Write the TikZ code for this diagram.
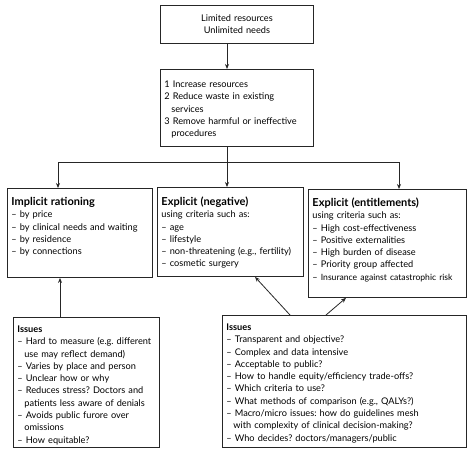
\documentclass[tikz,border=0pt]{standalone}
\usepackage{fontspec}
\setmainfont{Lato}
\usetikzlibrary{arrows.meta,calc,positioning}
\newcommand{\hangtxt}{\hspace*{0.75em}}
\frenchspacing

\begin{document}
\begin{tikzpicture}[x=1pt, y=-1pt,
        box/.style={rectangle, draw=black!85, line width=0.9pt, anchor=north west, align=left,
        inner xsep=4pt, inner ysep=4pt, text=black, font=\fontsize{9.2}{12.3}\selectfont},
        link/.style={draw=black!85, line width=0.8pt},
        arr/.style={link, -{Stealth[length=5pt,width=4pt]}}]
    \useasboundingbox (0,0) rectangle (474,450);

    \node [box, align=center, text width=145pt, text height=12pt, text depth=18pt] (top) at (160,5)
        {Limited resources\\Unlimited needs};
    \node [box, text width=145pt, text height=14pt, text depth=55pt] (steps) at (160,69)
        {1 Increase resources\\
         2 Reduce waste in existing\\
         \hangtxt services\\
         3 Remove harmful or ineffective\\
         \hangtxt procedures};

    \node [box, text width=137pt, text height=13pt, text depth=68pt] (implicit) at (7,188)
        {{\bfseries\fontsize{11}{12}\selectfont Implicit rationing}\\
         -- by price\\
         -- by clinical needs and waiting\\
         -- by residence\\
         -- by connections};
    \node [box, text width=138pt, text height=14pt, text depth=67pt] (neg) at (157,187)
        {{\bfseries\fontsize{11}{12}\selectfont Explicit (negative)}\\
         using criteria such as:\\
         -- age\\
         -- lifestyle\\
         -- non-threatening (e.g., fertility)\\
         -- cosmetic surgery};
    \node [box, text width=150pt, text height=13pt, text depth=87pt] (ent) at (308,189)
        {{\bfseries\fontsize{11}{12}\selectfont Explicit (entitlements)}\\
         using criteria such as:\\
         -- High cost-effectiveness\\
         -- Positive externalities\\
         -- High burden of disease\\
         -- Priority group affected\\
         -- {\fontsize{8.6}{12.3}\selectfont Insurance against catastrophic risk}};

    \node [box, text width=138pt, text height=11pt, text depth=111pt] (iss1) at (13,317)
        {\textbf{Issues}\\
         -- Hard to measure (e.g.\ different\\
         \hangtxt use may reflect demand)\\
         -- Varies by place and person\\
         -- Unclear how or why\\
         -- Reduces stress? Doctors and\\
         \hangtxt patients less aware of denials\\
         -- Avoids public furore over\\
         \hangtxt omissions\\
         -- How equitable?};
    \node [box, text width=236pt, text height=11pt, text depth=113pt] (iss2) at (222,315)
        {\textbf{Issues}\\
         -- Transparent and objective?\\
         -- Complex and data intensive\\
         -- Acceptable to public?\\
         -- How to handle equity/efficiency trade-offs?\\
         -- Which criteria to use?\\
         -- What methods of comparison (e.g., QALYs?)\\
         -- Macro/micro issues: how do guidelines mesh\\
         \hangtxt with complexity of clinical decision-making?\\
         -- Who decides? doctors/managers/public};

    \coordinate (fork) at (227,162);
    \coordinate (forkl) at (58,162);
    \coordinate (forkr) at (399,162);
    \coordinate (up1) at ([xshift=47pt]iss1.north west);

    \draw [arr] ([xshift=67pt]top.south west) -- ([xshift=67pt]steps.north west);
    \draw [link] ([xshift=67pt]steps.south west) -- (fork);
    \draw [link] (forkl) -- (forkr);
    \draw [arr] (forkl) -- (forkl |- implicit.north);
    \draw [arr] (fork) -- (fork |- neg.north);
    \draw [arr] (forkr) -- (forkr |- ent.north);
    \draw [arr] (up1) -- (up1 |- implicit.south);
    \draw [arr] ([xshift=68pt]iss2.north west) -- ([xshift=98pt]neg.south west);
    \draw [arr] ([xshift=104pt]iss2.north west) -- ([xshift=38pt]ent.south west);
\end{tikzpicture}
\end{document}
